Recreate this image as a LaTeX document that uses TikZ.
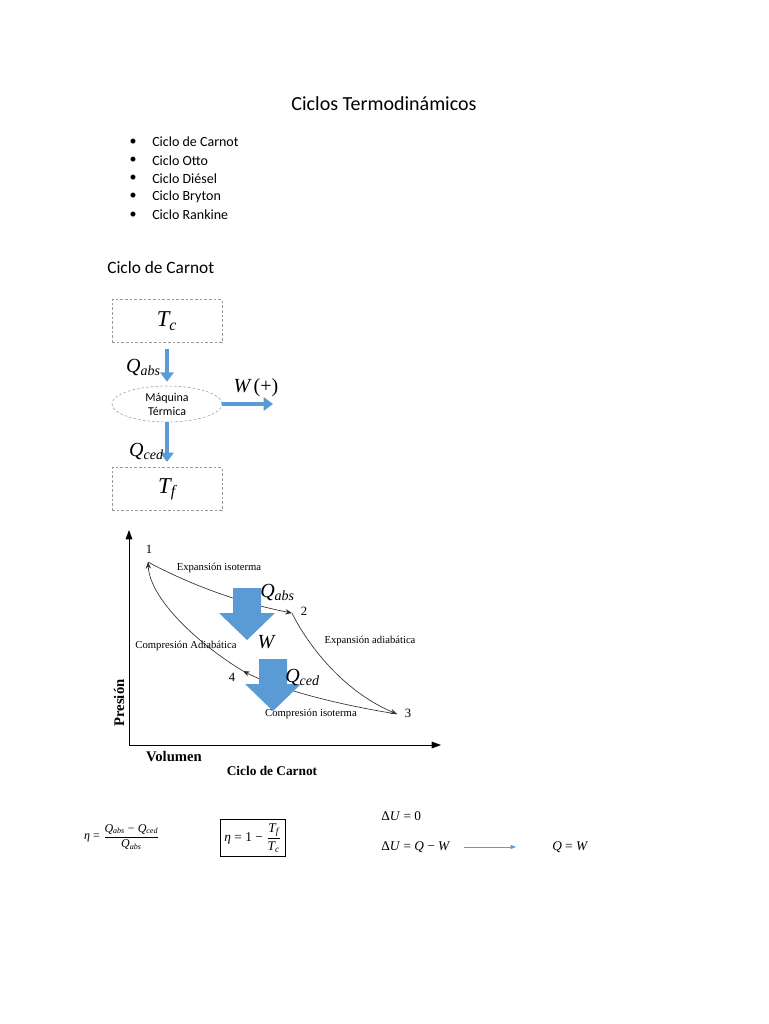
\documentclass[tikz,border=0pt]{standalone}
\usepackage{fontspec}
\setmainfont{Carlito}
\newfontfamily\tnr{Liberation Serif}
\usepackage{amsmath}
\usetikzlibrary{arrows.meta,positioning,shapes.geometric}
\definecolor{flowblue}{RGB}{91,155,213}
\newcommand{\tvar}[2]{{\tnr\itshape #1\textsubscript{#2}}}

\begin{document}
\begin{tikzpicture}[x=0.75pt, y=-0.75pt,
    box/.style={rectangle, draw=gray!80, dashed, dash pattern=on 2pt off 1.5pt,
                minimum width=82.5pt, minimum height=32.25pt, font=\tnr\itshape\fontsize{17}{19}\selectfont},
    engine/.style={ellipse, draw=gray!80, dashed, dash pattern=on 2pt off 1.5pt,
                minimum width=82.5pt, minimum height=27pt, inner sep=0pt, align=center,
                font=\fontsize{9}{10.5}\selectfont},
    flow/.style={-{Triangle[length=7pt, width=10pt]}, line width=3pt, flowblue},
    biglabel/.style={font=\tnr\itshape\fontsize{15}{17}\selectfont, inner sep=0pt},
    axis/.style={-{Triangle[length=7pt, width=5pt]}, line width=0.6pt},
    path/.style={-{Stealth[length=5pt, width=4pt]}, line width=0.5pt, black!80},
    curvelabel/.style={font=\tnr\fontsize{8}{9}\selectfont, inner sep=0pt},
    ptlabel/.style={font=\tnr\fontsize{9.5}{11}\selectfont, inner sep=0pt},
    blockarr/.style={fill=flowblue, draw=none},
    formula/.style={font=\tnr\fontsize{10}{12}\selectfont, inner sep=0pt},
    item/.style={anchor=west, font=\fontsize{10.5}{12}\selectfont, inner sep=0pt}
  ]
  \useasboundingbox (0,0) rectangle (768,1024);

  % Title and list
  \node[font=\fontsize{15}{18}\selectfont] (title) at (384,104) {Ciclos Termodinámicos};
  \foreach \name [count=\i] in {Ciclo de Carnot, Ciclo Otto, Ciclo Diésel, Ciclo Bryton, Ciclo Rankine}{
    \node[item] (it\i) at (152,{142+18.25*(\i-1)}) {\name};
    \node[font=\fontsize{10.5}{12}\selectfont, inner sep=0pt] (bul\i) at (133,{142+18.25*(\i-1)}) {\textbullet};
  }
  \node[anchor=west, font=\fontsize{13}{15}\selectfont, inner sep=0pt] (carnot) at (107,268) {Ciclo de Carnot};

  % Heat engine scheme
  \node[box] (tc) at (167,321) {T\textsubscript{c}};
  \node[engine] (maq) at (167,404) {Máquina\\Térmica};
  \node[box] (tf) at (167,489) {T\textsubscript{f}};
  \coordinate (wout) at (273,404);
  \draw[flow, shorten <=5pt, shorten >=3pt] (tc) -- (maq);
  \draw[flow, shorten >=4pt] (maq) -- (tf);
  \draw[flow] (maq.east) -- (wout);
  \node[biglabel, anchor=east] (qabs1) at (161,367) {Q\textsubscript{abs}};
  \node[biglabel, anchor=east] (qced1) at (164,451) {Q\textsubscript{ced}};
  \node[biglabel] (wplus) at (256,388) {W\,\upshape(+)};

  % P-V diagram
  \coordinate (orig) at (129,745);
  \coordinate (ytop) at (129,530);
  \coordinate (xend) at (441,745);
  \draw[axis] (orig) -- (ytop);
  \draw[axis] (orig) -- (xend);
  \coordinate (p1) at (148,562);
  \coordinate (p2) at (292,613);
  \coordinate (p3) at (397,714);
  \coordinate (p4) at (243,671);
  \draw[path] (p1) .. controls (185,582) and (235,602) .. (p2);
  \draw[path] (p2) .. controls (305,640) and (340,690) .. (p3);
  \draw[path] (p3) .. controls (340,705) and (280,690) .. (p4);
  \draw[path] (p4) .. controls (200,645) and (150,600) .. (p1);

  % block arrows
  \foreach \x/\y in {247/588, 273/659}{
    \fill[blockarr] (\x-14,\y) -- (\x+14,\y) -- (\x+14,\y+25) -- (\x+28,\y+25)
      -- (\x,\y+52) -- (\x-28,\y+25) -- (\x-14,\y+25) -- cycle;
  }

  \node[ptlabel] (n1) at (149,549) {1};
  \node[ptlabel] (n2) at (304,611) {2};
  \node[ptlabel] (n3) at (408,713) {3};
  \node[ptlabel] (n4) at (232,677) {4};
  \node[curvelabel] (l12) at (219,568) {Expansión isoterma};
  \node[curvelabel] (l23) at (370,641) {Expansión adiabática};
  \node[curvelabel] (l34) at (311,714) {Compresión isoterma};
  \node[curvelabel] (l41) at (186,646) {Compresión Adiabática};
  \node[biglabel, anchor=west] (qabs2) at (260,592) {Q\textsubscript{abs}};
  \node[biglabel] (wgraph) at (266,642) {W};
  \node[biglabel, anchor=west] (qced2) at (285,677) {Q\textsubscript{ced}};
  \node[rotate=90, font=\tnr\bfseries\fontsize{11}{13}\selectfont, inner sep=0pt] (pres) at (119,703) {Presión};
  \node[font=\tnr\bfseries\fontsize{11}{13}\selectfont, inner sep=0pt] (vol) at (174,757) {Volumen};
  \node[font=\tnr\bfseries\fontsize{10}{12}\selectfont, inner sep=0pt] (cap) at (272,771) {Ciclo de Carnot};

  % Efficiency and first law
  \node[formula, font=\tnr\fontsize{9}{11}\selectfont] (eta1) at (122,837)
    {\itshape η\upshape\ = $\dfrac{\hbox{\tvar{Q}{abs} − \tvar{Q}{ced}}}{\hbox{\tvar{Q}{abs}}}$};
  \node[formula, draw, line width=0.6pt, inner sep=3pt] (eta2) at (253,838)
    {\itshape η\upshape\ = 1 − $\dfrac{\hbox{\tvar{T}{f}}}{\hbox{\tvar{T}{c}}}$};
  \node[formula, anchor=west] (du1) at (381,816) {Δ\textit{U} = 0};
  \node[formula, anchor=west] (du2) at (381,847) {Δ\textit{U} = \textit{Q} − \textit{W}};
  \node[formula, anchor=west] (qw) at (552,847) {\textit{Q} = \textit{W}};
  \draw[-{Triangle[length=4pt, width=3pt]}, flowblue, line width=0.5pt, shorten <=10pt, shorten >=27pt] (du2.east) -- (qw.west);
\end{tikzpicture}
\end{document}
